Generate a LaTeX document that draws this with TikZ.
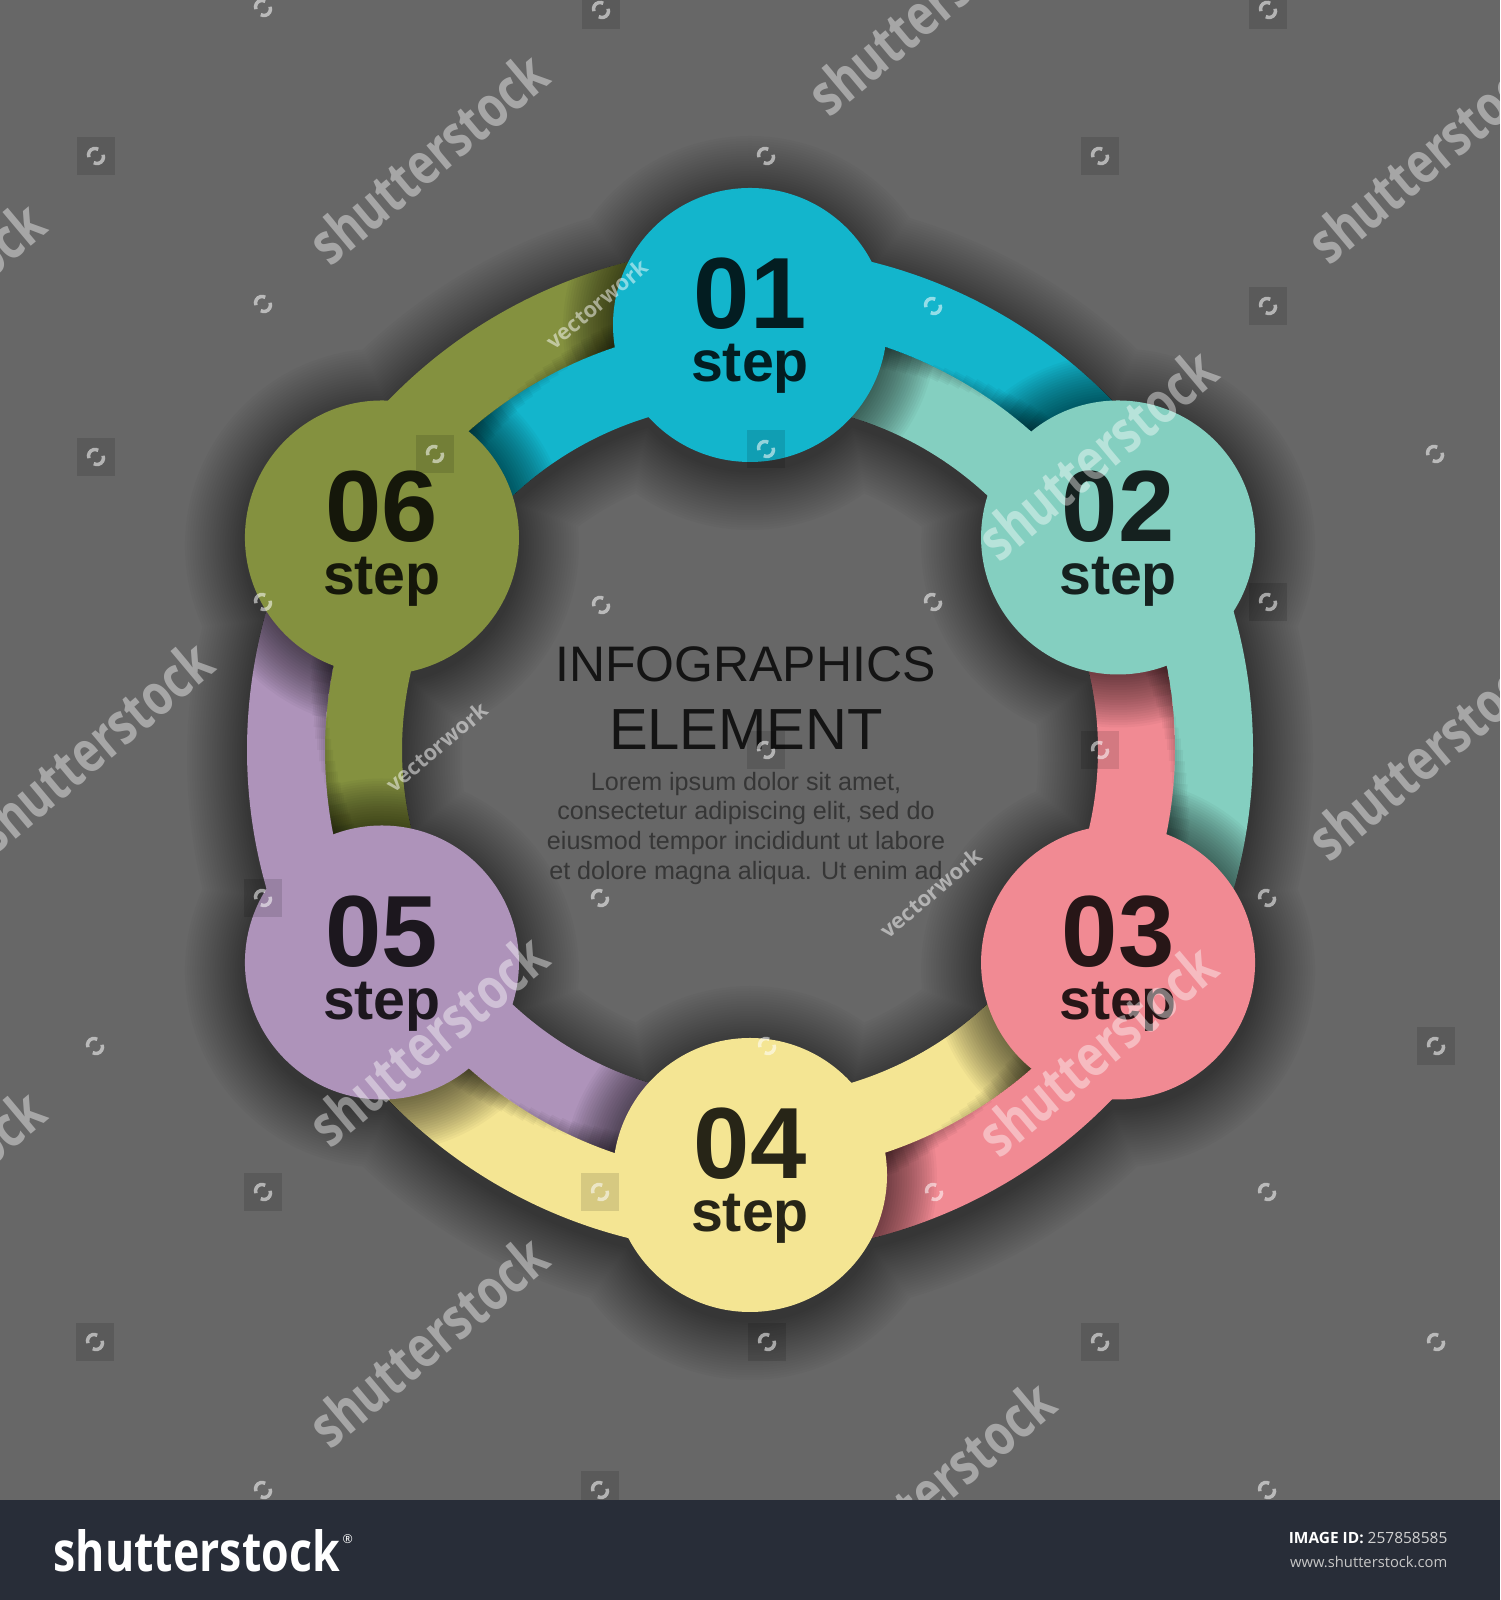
\documentclass[tikz,border=0pt]{standalone}
\usepackage{fontspec}
\setmainfont{Liberation Sans}
\newfontfamily\logofont{Open Sans}
\usetikzlibrary{calc}
\definecolor{bgc}{HTML}{676767}
\definecolor{footc}{HTML}{282D38}
\definecolor{c1}{HTML}{13B5CC}
\definecolor{c2}{HTML}{84CFC0}
\definecolor{c3}{HTML}{F18A93}
\definecolor{c4}{HTML}{F4E593}
\definecolor{c5}{HTML}{AE93BA}
\definecolor{c6}{HTML}{84913F}
\definecolor{loremc}{HTML}{363636}
\tikzset{
  stepcircle/.style={circle, minimum size=2.74cm, inner sep=0pt, draw=none},
  numtext/.style={font=\fontsize{28.8}{29}\selectfont\bfseries, inner sep=0pt},
  steptext/.style={font=\fontsize{16.3}{16.5}\selectfont\bfseries, inner sep=0pt},
  lorem/.style={font=\fontsize{7.15}{7.5}\selectfont, text=loremc, inner sep=0pt, anchor=base},
  wm/.style={text=white, text opacity=0.42, rotate=40, inner sep=0pt},
  wmsmall/.style={text=white, text opacity=0.5, rotate=40, inner sep=0pt, font=\logofont\bfseries\fontsize{6.2}{7}\selectfont},
  iconline/.style={white, draw opacity=0.55, line width=0.035cm},
}
\newcommand\wmword{\resizebox{2.9cm}{0.44cm}{\logofont\bfseries shutterstock}}
\begin{document}
\begin{tikzpicture}
\useasboundingbox (0,0) rectangle (15,16);
\fill[bgc] (0,0) rectangle (15,16);

% soft shadow of the whole ring on the background
\foreach \d in {0.6,0.575,...,0.0}{
  \pgfmathsetmacro\ro{5.03+\d}
  \pgfmathsetmacro\ri{3.48-\d}
  \pgfmathsetmacro\rc{1.37+\d}
  \fill[black, opacity=0.02, shift={(7.5,8.42)}]
    (0:\ro) arc[start angle=0, end angle=360, radius=\ro] -- cycle
    (0:\ri) arc[start angle=360, end angle=0, radius=\ri] -- cycle
    \foreach \t in {90,30,-30,-90,-150,150}{
      (\t:4.25) ++(\rc,0) arc[start angle=0, end angle=360, radius=\rc] -- cycle
    };
}

\begin{scope}[shift={(7.5,8.5)}]
% bands: inner part (from previous circle to own circle)
\foreach \k in {1,...,6}{
  \pgfmathsetmacro\th{150-60*\k}
  \pgfmathsetmacro\a{\th+60}
  \fill[c\k] (\th:4.26) arc[start angle=\th, end angle=\a, radius=4.26]
     -- (\a:3.48) arc[start angle=\a, end angle=\th, radius=3.48] -- cycle;
}
% bands: outer part (from own circle to next circle)
\foreach \k in {1,...,6}{
  \pgfmathsetmacro\th{150-60*\k}
  \pgfmathsetmacro\b{\th-60}
  \fill[c\k] (\b:5.03) arc[start angle=\b, end angle=\th, radius=5.03]
     -- (\th:4.25) arc[start angle=\th, end angle=\b, radius=4.25] -- cycle;
}
% shadows that each circle and its band cast on the neighbouring bands
\foreach \k in {1,...,6}{
  \pgfmathsetmacro\th{150-60*\k}
  \pgfmathsetmacro\a{\th+60}
  \pgfmathsetmacro\b{\th-60}
  \begin{scope}
    \clip (\b:4.25) arc[start angle=\b, end angle=\th, radius=4.25]
          -- (\th:3.48) arc[start angle=\th, end angle=\b, radius=3.48] -- cycle
          (\th:5.03) arc[start angle=\th, end angle=\a, radius=5.03]
          -- (\a:4.25) arc[start angle=\a, end angle=\th, radius=4.25] -- cycle;
    \foreach \d in {0.5,0.475,...,0.0}{
      \pgfmathsetmacro\rc{1.37+\d}
      \fill[black, opacity=0.03] (\th:4.25) ++(0,-0.03) circle[radius=\rc];
    }
    \foreach \i in {1,...,11}{
      \pgfmathsetmacro\ra{4.25-0.02*\i}
      \pgfmathsetmacro\rb{4.25+0.02*\i}
      \pgfmathsetmacro\ea{\th-36+1.5*\i}
      \pgfmathsetmacro\eb{\th+36-1.5*\i}
      \fill[black, opacity=0.04] (\ea:4.25) arc[start angle=\ea, end angle=\th, radius=4.25]
         -- (\th:\ra) arc[start angle=\th, end angle=\ea, radius=\ra] -- cycle;
      \fill[black, opacity=0.04] (\th:\rb) arc[start angle=\th, end angle=\eb, radius=\rb]
         -- (\eb:4.25) arc[start angle=\eb, end angle=\th, radius=4.25] -- cycle;
    }
  \end{scope}
}
\end{scope}

% step circles and their labels
\foreach \k/\lab in {1/01,2/02,3/03,4/04,5/05,6/06}{
  \pgfmathsetmacro\th{150-60*\k}
  \node[stepcircle, fill=c\k] (s\k) at ($(7.5,8.5)+(\th:4.25)$) {};
  \node[numtext, text=c\k!16!black, anchor=base] (n\k) at ($(s\k.center)+(0,-0.04)$) {\lab};
  \node[steptext, text=c\k!16!black, anchor=base] (t\k) at ($(s\k.center)+(0,-0.57)$) {step};
}

% centre text
\node[font=\fontsize{14.2}{15}\selectfont, text=black!92, anchor=base, inner sep=0pt] (title1) at (7.455,9.183) {INFOGRAPHICS};
\node[font=\fontsize{16.5}{17}\selectfont, text=black!92, anchor=base, inner sep=0pt] (title2) at (7.46,8.50) {ELEMENT};
\node[lorem] (l1) at (7.46,8.093) {Lorem ipsum dolor sit amet,};
\node[lorem] (l2) at (7.46,7.80) {consectetur adipiscing elit, sed do};
\node[lorem] (l3) at (7.46,7.50) {eiusmod tempor incididunt ut labore};
\node[lorem] (l4) at (7.46,7.20) {et dolore magna aliqua. Ut enim ad};

% watermark icons (overlay)
\foreach \x/\y/\s in {263/8/0,601/10/1,1268/10/1,96/156/1,766/156/0,1100/156/1,
  263/304/0,933/306/0,1268/306/1,96/457/1,435/454/1,766/449/1,1435/454/0,
  263/602/0,601/605/0,933/602/0,1268/602/1,766/750/1,1100/750/1,
  263/898/1,600/898/0,1267/898/0,95/1046/0,767/1046/0,1436/1046/1,
  263/1192/1,600/1192/1,934/1192/0,1267/1192/0,95/1342/1,767/1342/1,1100/1342/1,1436/1342/0,
  263/1490/0,600/1490/1,1267/1490/0}{
  \pgfmathsetmacro\X{\x/100}
  \pgfmathsetmacro\Y{(1600-\y)/100}
  \ifnum\s=1
    \fill[black, opacity=0.12] (\X-0.19,\Y-0.19) rectangle ++(0.38,0.38);
  \fi
  \draw[iconline] (\X-0.01,\Y+0.01) ++(60:0.065) arc[start angle=60, end angle=200, radius=0.065];
  \draw[iconline] (\X+0.01,\Y-0.01) ++(240:0.065) arc[start angle=240, end angle=380, radius=0.065];
}

% watermarks
\node[wm] (w1) at (4.28,14.42) {\wmword};
\node[wm] (w2) at (9.27,15.91) {\wmword};
\node[wm] (w3) at (14.27,14.43) {\wmword};
\node[wm] (w4) at (-0.75,12.93) {\wmword};
\node[wm] (w5) at (10.97,11.46) {\wmword};
\node[wm] (w6) at (0.93,8.54) {\wmword};
\node[wm] (w7) at (14.27,8.46) {\wmword};
\node[wm] (w8) at (4.28,5.60) {\wmword};
\node[wm] (w9) at (10.97,5.50) {\wmword};
\node[wm] (w10) at (-0.75,4.05) {\wmword};
\node[wm] (w11) at (4.28,2.59) {\wmword};
\node[wm] (w12) at (9.35,1.14) {\wmword};
\node[wmsmall] (v1) at (5.97,12.96) {vectorwork};
\node[wmsmall] (v2) at (4.37,8.53) {vectorwork};
\node[wmsmall] (v3) at (9.31,7.07) {vectorwork};

% footer
\fill[footc] (0,0) rectangle (15,1.0);
\node[anchor=base west, inner sep=0pt, text=white] (logo) at (0.53,0.283) {\resizebox{2.86cm}{0.42cm}{\logofont\bfseries shutterstock}};
\node[anchor=base west, inner sep=0pt, text=white, font=\logofont\fontsize{3.5}{4}\selectfont] (reg) at (3.42,0.56) {\textregistered};
\node[anchor=base east, inner sep=0pt, font=\logofont\fontsize{4.4}{5}\selectfont] (imgid) at (14.48,0.56) {\textcolor{white}{\bfseries IMAGE ID:} \textcolor{black!18}{257858585}};
\node[anchor=base east, inner sep=0pt, text=black!22, font=\logofont\fontsize{4.2}{5}\selectfont] (site) at (14.48,0.323) {www.shutterstock.com};
\end{tikzpicture}
\end{document}
